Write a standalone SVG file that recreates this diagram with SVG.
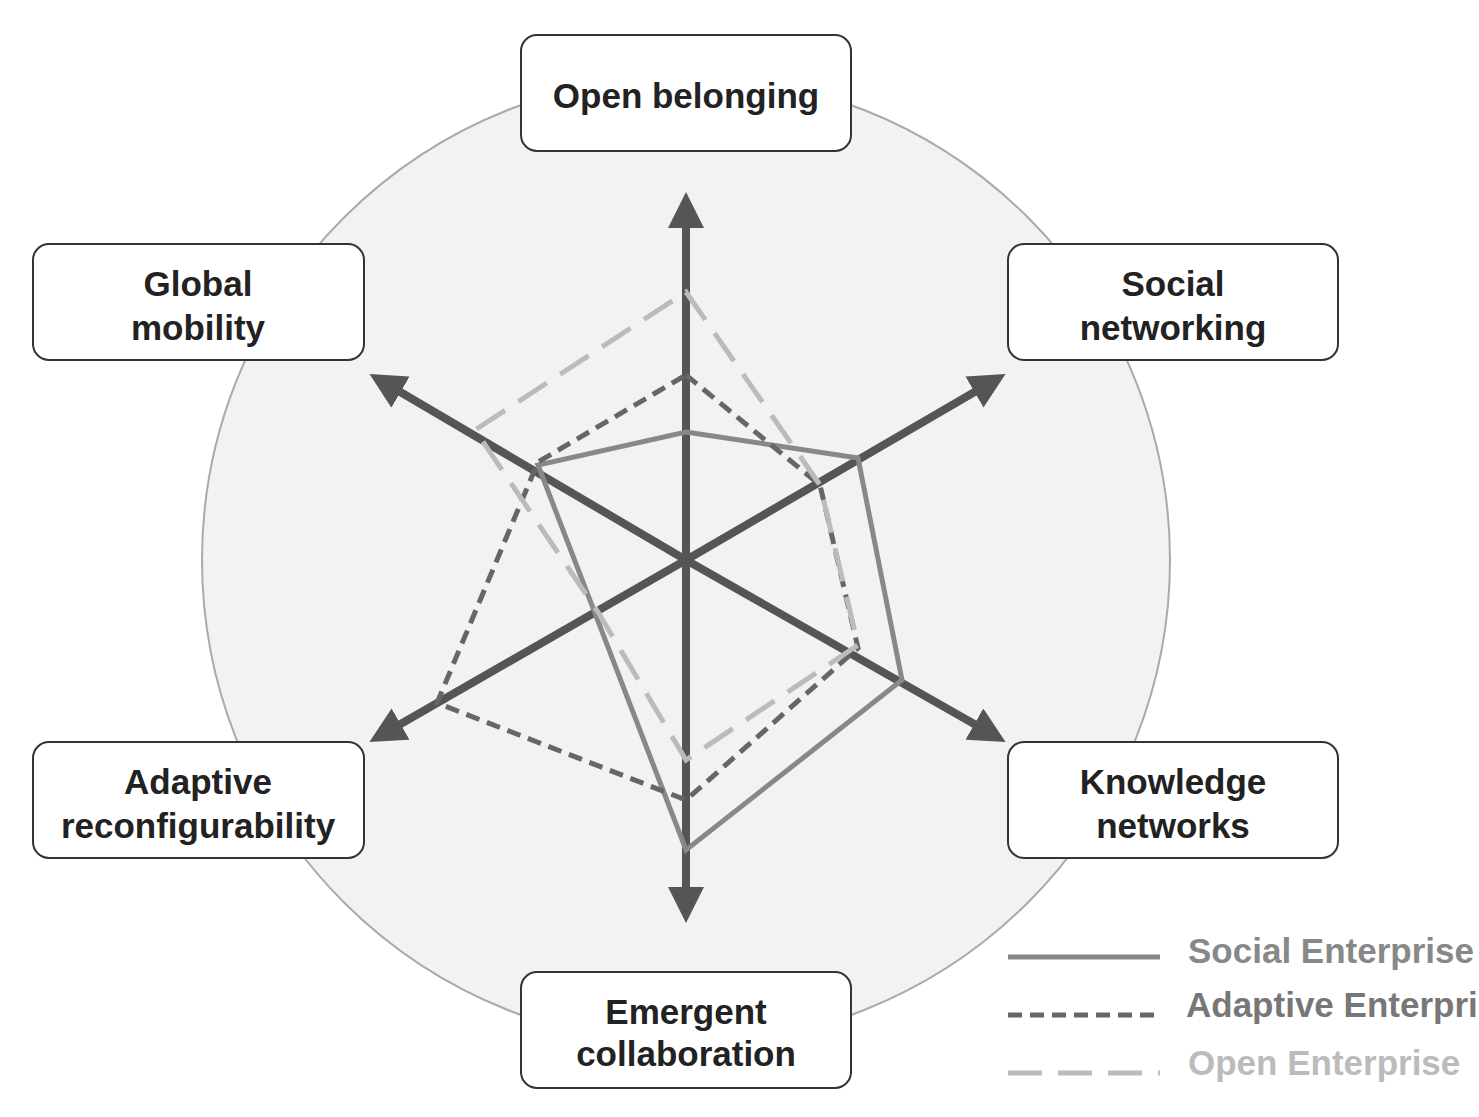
<svg xmlns="http://www.w3.org/2000/svg" width="1479" height="1117" viewBox="0 0 1479 1117">
<style>
.box{fill:#fff;stroke:#333;stroke-width:2}
.t{font-family:"Liberation Sans",Arial,sans-serif;font-weight:bold;font-size:35px;fill:#222;text-anchor:middle}
.lg{font-family:"Liberation Sans",Arial,sans-serif;font-weight:bold;font-size:35px}
.ax{stroke:#555;stroke-width:8;fill:none;marker-end:url(#ah)}
</style>
<defs>
<marker id="ah" viewBox="0 0 10 10" refX="5" refY="5" markerWidth="4.5" markerHeight="4.5" orient="auto" markerUnits="strokeWidth"><path d="M0,0L10,5L0,10z" fill="#555"/></marker>
</defs>
<rect width="1479" height="1117" fill="#fff"/>
<circle cx="686" cy="560" r="484" fill="#f2f2f2" stroke="#aaa" stroke-width="2"/>
<g id="connectors">
<line class="ax" x1="686" y1="560" x2="686" y2="210"/>
<line class="ax" x1="686" y1="560" x2="686" y2="905"/>
<line class="ax" x1="686" y1="560" x2="385" y2="383"/>
<line class="ax" x1="686" y1="560" x2="990" y2="383"/>
<line class="ax" x1="686" y1="560" x2="385" y2="733"/>
<line class="ax" x1="686" y1="560" x2="990" y2="733"/>
<polygon points="686,432 858,458 902,680 686,850 538,465" fill="none" stroke="#888" stroke-width="5"/>
<polygon points="686,375 820,485 858,648 686,800 437,703 538,462" fill="none" stroke="#666" stroke-width="5" stroke-dasharray="14,8"/>
<polygon points="686,292 820,485 858,645 686,760 598,612 475,430" fill="none" stroke="#bbb" stroke-width="5" stroke-dasharray="34,16"/>
</g>
<g id="n1"><rect class="box" x="521" y="35" width="330" height="116" rx="16"/><text class="t" x="686" y="108">Open belonging</text></g>
<g id="n2"><rect class="box" x="33" y="244" width="331" height="116" rx="16"/><text class="t" x="198" y="296">Global</text><text class="t" x="198" y="340">mobility</text></g>
<g id="n3"><rect class="box" x="1008" y="244" width="330" height="116" rx="16"/><text class="t" x="1173" y="296">Social</text><text class="t" x="1173" y="340">networking</text></g>
<g id="n4"><rect class="box" x="33" y="742" width="331" height="116" rx="16"/><text class="t" x="198" y="794">Adaptive</text><text class="t" x="198" y="838">reconfigurability</text></g>
<g id="n5"><rect class="box" x="1008" y="742" width="330" height="116" rx="16"/><text class="t" x="1173" y="794">Knowledge</text><text class="t" x="1173" y="838">networks</text></g>
<g id="n6"><rect class="box" x="521" y="972" width="330" height="116" rx="16"/><text class="t" x="686" y="1024">Emergent</text><text class="t" x="686" y="1066">collaboration</text></g>
<g id="legend">
<line x1="1008" y1="957" x2="1160" y2="957" stroke="#888" stroke-width="5"/>
<text class="lg" x="1188" y="963" fill="#888">Social Enterprise</text>
<line x1="1008" y1="1015" x2="1160" y2="1015" stroke="#666" stroke-width="5" stroke-dasharray="14,8"/>
<text class="lg" x="1186" y="1017" fill="#777">Adaptive Enterprise</text>
<line x1="1008" y1="1073" x2="1160" y2="1073" stroke="#bbb" stroke-width="5" stroke-dasharray="34,16"/>
<text class="lg" x="1188" y="1075" fill="#bbb">Open Enterprise</text>
</g>
</svg>
